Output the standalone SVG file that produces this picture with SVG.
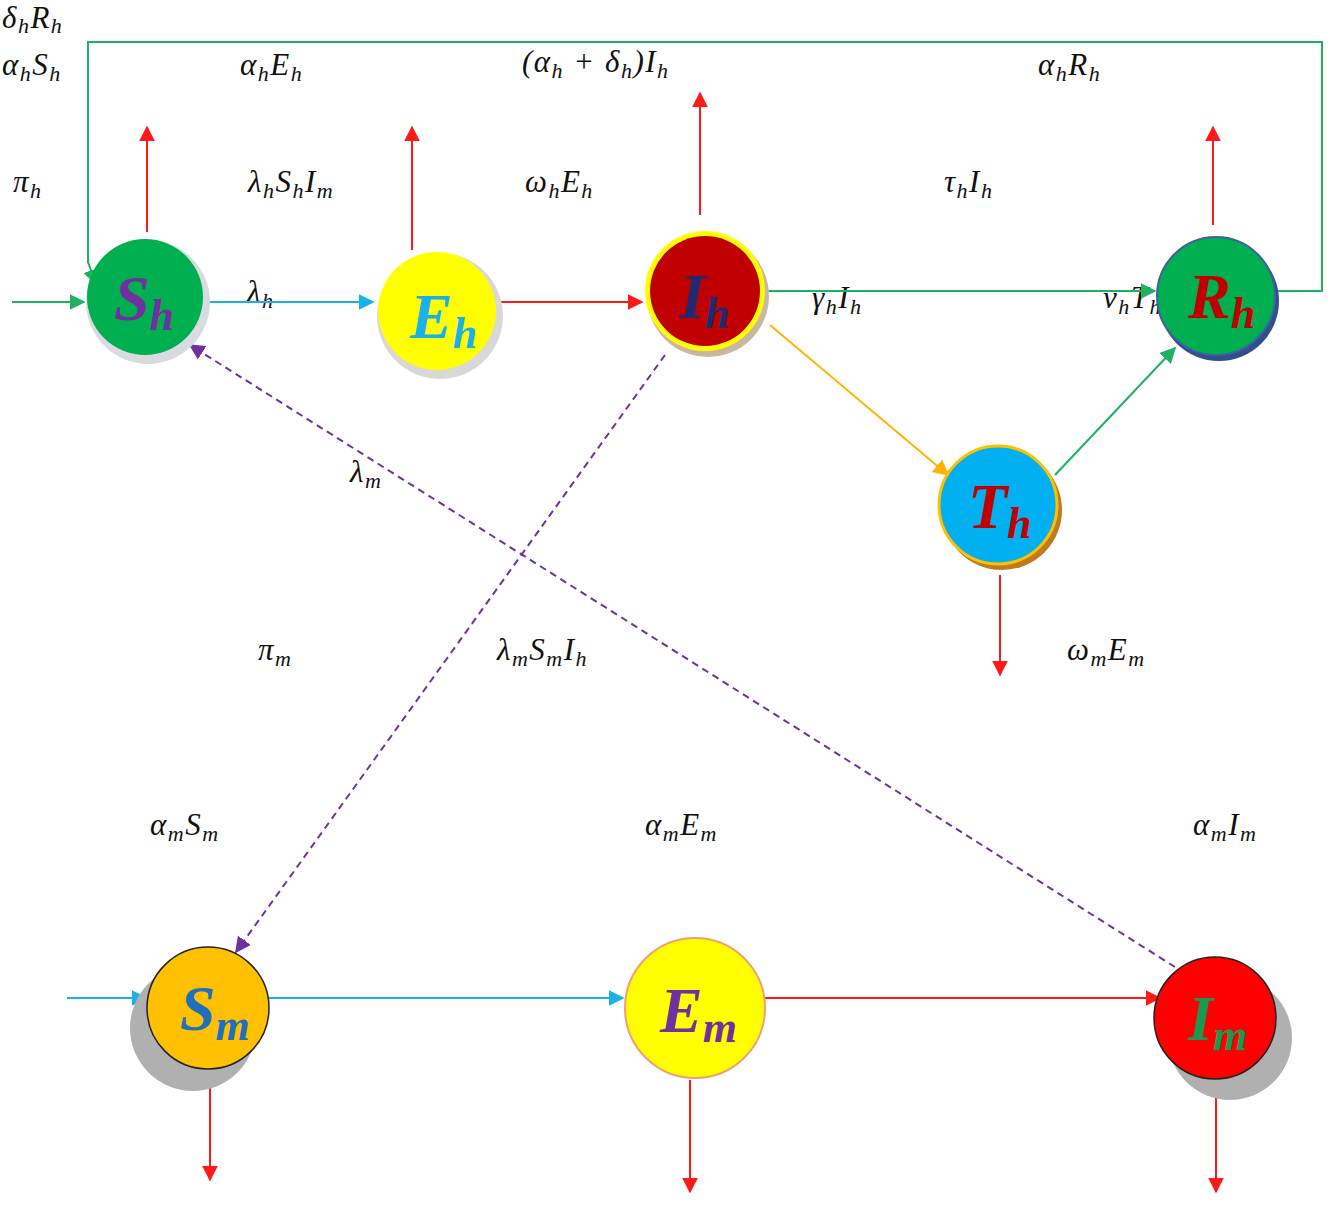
<svg xmlns="http://www.w3.org/2000/svg" width="1338" height="1218" viewBox="0 0 1338 1218">
<style>
.l{font-family:"Liberation Serif",serif;font-style:italic;font-size:31px;letter-spacing:1.5px;fill:#111}
.s{font-size:22px}
.n{font-family:"Liberation Serif",serif;font-style:italic;font-weight:bold;font-size:64px}
.ns{font-size:44px}
.c{fill:none;stroke-width:2}
</style>
<defs>
<marker id="ar" viewBox="0 0 10 10" refX="9" refY="5" markerWidth="8" markerHeight="8" orient="auto"><path d="M0,0L10,5L0,10z" fill="#ff1a1a"/></marker>
<marker id="ab" viewBox="0 0 10 10" refX="9" refY="5" markerWidth="8" markerHeight="8" orient="auto"><path d="M0,0L10,5L0,10z" fill="#1ab0ea"/></marker>
<marker id="ag" viewBox="0 0 10 10" refX="9" refY="5" markerWidth="8" markerHeight="8" orient="auto"><path d="M0,0L10,5L0,10z" fill="#1fb060"/></marker>
<marker id="ao" viewBox="0 0 10 10" refX="9" refY="5" markerWidth="8" markerHeight="8" orient="auto"><path d="M0,0L10,5L0,10z" fill="#ffb400"/></marker>
<marker id="ap" viewBox="0 0 10 10" refX="9" refY="5" markerWidth="8" markerHeight="8" orient="auto"><path d="M0,0L10,5L0,10z" fill="#7030a0"/></marker>
</defs>
<rect width="1338" height="1218" fill="#fff"/>
<g id="labels">
<text class="l" x="2" y="28">δ<tspan class="s" dy="5">h</tspan><tspan dy="-5">R</tspan><tspan class="s" dy="5">h</tspan></text>
<text class="l" x="2" y="75">α<tspan class="s" dy="6">h</tspan><tspan dy="-6">S</tspan><tspan class="s" dy="6">h</tspan></text>
<text class="l" x="240" y="75">α<tspan class="s" dy="6">h</tspan><tspan dy="-6">E</tspan><tspan class="s" dy="6">h</tspan></text>
<text class="l" x="522" y="72">(α<tspan class="s" dy="6">h</tspan><tspan dy="-6"> + δ</tspan><tspan class="s" dy="6">h</tspan><tspan dy="-6">)I</tspan><tspan class="s" dy="6">h</tspan></text>
<text class="l" x="1038" y="75">α<tspan class="s" dy="6">h</tspan><tspan dy="-6">R</tspan><tspan class="s" dy="6">h</tspan></text>
<text class="l" x="13" y="192">π<tspan class="s" dy="6">h</tspan></text>
<text class="l" x="248" y="192">λ<tspan class="s" dy="6">h</tspan><tspan dy="-6">S</tspan><tspan class="s" dy="6">h</tspan><tspan dy="-6">I</tspan><tspan class="s" dy="6">m</tspan></text>
<text class="l" x="525" y="192">ω<tspan class="s" dy="6">h</tspan><tspan dy="-6">E</tspan><tspan class="s" dy="6">h</tspan></text>
<text class="l" x="944" y="192">τ<tspan class="s" dy="6">h</tspan><tspan dy="-6">I</tspan><tspan class="s" dy="6">h</tspan></text>
<text class="l" x="247" y="302">λ<tspan class="s" dy="6">h</tspan></text>
<text class="l" x="812" y="308">γ<tspan class="s" dy="6">h</tspan><tspan dy="-6">I</tspan><tspan class="s" dy="6">h</tspan></text>
<text class="l" x="1103" y="308">ν<tspan class="s" dy="6">h</tspan><tspan dy="-6">T</tspan><tspan class="s" dy="6">h</tspan></text>
<text class="l" x="350" y="482">λ<tspan class="s" dy="6">m</tspan></text>
<text class="l" x="258" y="660">π<tspan class="s" dy="6">m</tspan></text>
<text class="l" x="497" y="660">λ<tspan class="s" dy="6">m</tspan><tspan dy="-6">S</tspan><tspan class="s" dy="6">m</tspan><tspan dy="-6">I</tspan><tspan class="s" dy="6">h</tspan></text>
<text class="l" x="1067" y="660">ω<tspan class="s" dy="6">m</tspan><tspan dy="-6">E</tspan><tspan class="s" dy="6">m</tspan></text>
<text class="l" x="150" y="835">α<tspan class="s" dy="6">m</tspan><tspan dy="-6">S</tspan><tspan class="s" dy="6">m</tspan></text>
<text class="l" x="645" y="835">α<tspan class="s" dy="6">m</tspan><tspan dy="-6">E</tspan><tspan class="s" dy="6">m</tspan></text>
<text class="l" x="1193" y="835">α<tspan class="s" dy="6">m</tspan><tspan dy="-6">I</tspan><tspan class="s" dy="6">m</tspan></text>
</g>
<g id="connectors">
<path class="c" stroke="#1fb060" d="M12,302H84" marker-end="url(#ag)"/>
<path class="c" stroke="#1fb060" d="M1276,291H1322V42H88V262L96,284" marker-end="url(#ag)"/>
<path class="c" stroke="#ff1a1a" d="M147,232V127" marker-end="url(#ar)"/>
<path class="c" stroke="#1ab0ea" d="M205,302H373" marker-end="url(#ab)"/>
<path class="c" stroke="#ff1a1a" d="M412,250V127" marker-end="url(#ar)"/>
<path class="c" stroke="#ff1a1a" d="M497,302H642" marker-end="url(#ar)"/>
<path class="c" stroke="#ff1a1a" d="M700,215V93" marker-end="url(#ar)"/>
<path class="c" stroke="#1fb060" d="M765,291H1155" marker-end="url(#ag)"/>
<path class="c" stroke="#ffb400" d="M770,325L948,475" marker-end="url(#ao)"/>
<path class="c" stroke="#1fb060" d="M1055,475L1175,348" marker-end="url(#ag)"/>
<path class="c" stroke="#ff1a1a" d="M1000,575V675" marker-end="url(#ar)"/>
<path class="c" stroke="#ff1a1a" d="M1213,225V127" marker-end="url(#ar)"/>
<path class="c" stroke="#7030a0" stroke-dasharray="7,5" d="M665,355L236,952" marker-end="url(#ap)"/>
<path class="c" stroke="#7030a0" stroke-dasharray="7,5" d="M1175,967L190,345" marker-end="url(#ap)"/>
<path class="c" stroke="#1ab0ea" d="M67,998H146" marker-end="url(#ab)"/>
<path class="c" stroke="#1ab0ea" d="M268,998H623" marker-end="url(#ab)"/>
<path class="c" stroke="#ff1a1a" d="M765,998H1160" marker-end="url(#ar)"/>
<path class="c" stroke="#ff1a1a" d="M210,1080V1180" marker-end="url(#ar)"/>
<path class="c" stroke="#ff1a1a" d="M690,1080V1192" marker-end="url(#ar)"/>
<path class="c" stroke="#ff1a1a" d="M1216,1090V1192" marker-end="url(#ar)"/>
</g>
<g id="Sh"><circle cx="148" cy="302" r="62" fill="#d8dbe0"/><circle cx="145" cy="297" r="58" fill="#00b050"/><text class="n" x="114" y="320" fill="#7030a0">S<tspan class="ns" dy="10">h</tspan></text></g>
<g id="Eh"><circle cx="440" cy="316" r="63" fill="#d8d8d8"/><circle cx="437" cy="311" r="59" fill="#ffff00"/><text class="n" x="410" y="338" fill="#1ab0ea">E<tspan class="ns" dy="10">h</tspan></text></g>
<g id="Ih"><circle cx="708" cy="296" r="61" fill="#c8b8a0"/><circle cx="705" cy="291" r="60" fill="#ffff00"/><circle cx="705" cy="291" r="55" fill="#c00000"/><text class="n" x="680" y="318" fill="#1f2a70">I<tspan class="ns" dy="10">h</tspan></text></g>
<g id="Rh"><circle cx="1219" cy="301" r="60" fill="#2f4f8f"/><circle cx="1216" cy="296" r="59" fill="#00b050" stroke="#4060a0" stroke-width="2"/><text class="n" x="1188" y="318" fill="#c00000">R<tspan class="ns" dy="10">h</tspan></text></g>
<g id="Th"><circle cx="1002" cy="510" r="60" fill="#c07a20"/><circle cx="998" cy="505" r="59" fill="#00b0f0" stroke="#ffc000" stroke-width="3"/><text class="n" x="968" y="528" fill="#c00000">T<tspan class="ns" dy="10">h</tspan></text></g>
<g id="Sm"><circle cx="193" cy="1028" r="63" fill="#b0b0b0"/><circle cx="208" cy="1008" r="61" fill="#ffc000" stroke="#222" stroke-width="1.5"/><text class="n" x="180" y="1030" fill="#1f6fc0">S<tspan class="ns" dy="10">m</tspan></text></g>
<g id="Em"><circle cx="695" cy="1008" r="70" fill="#ffff00" stroke="#f0a070" stroke-width="2"/><text class="n" x="660" y="1032" fill="#7030a0">E<tspan class="ns" dy="10">m</tspan></text></g>
<g id="Im"><circle cx="1230" cy="1038" r="62" fill="#b0b0b0"/><circle cx="1215" cy="1018" r="61" fill="#ff0000" stroke="#222" stroke-width="1.5"/><text class="n" x="1188" y="1040" fill="#1a9a50">I<tspan class="ns" dy="10">m</tspan></text></g>
</svg>
